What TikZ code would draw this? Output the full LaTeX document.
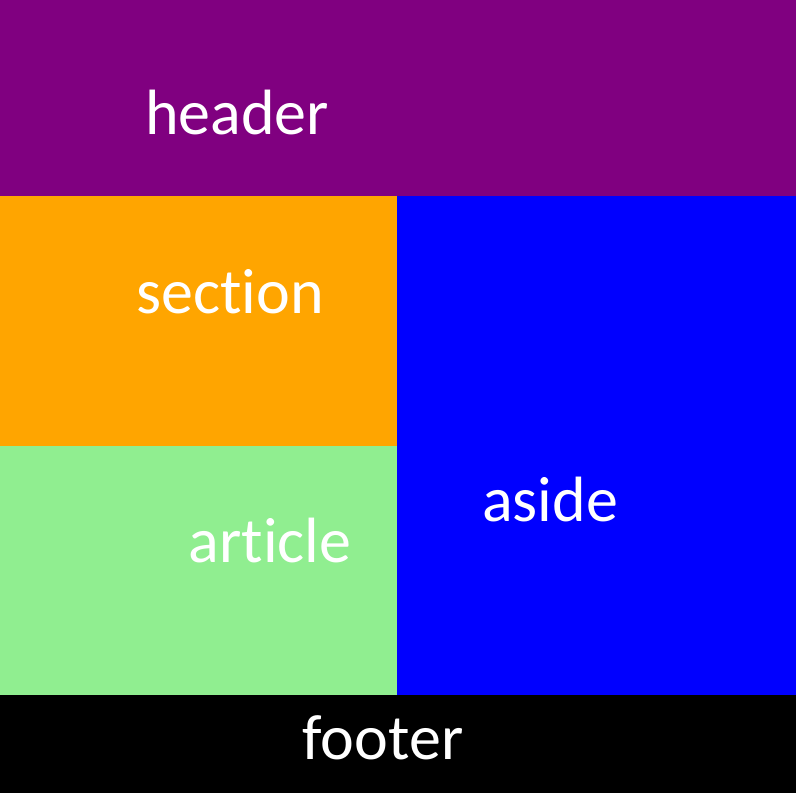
\documentclass[tikz,border=0pt]{standalone}
\usepackage{fontspec}
\setmainfont{Carlito}[Ligatures=NoCommon]
\definecolor{headercol}{RGB}{128,0,128}
\definecolor{sectioncol}{RGB}{255,165,0}
\definecolor{articlecol}{RGB}{144,238,144}
\definecolor{asidecol}{RGB}{0,0,255}
\begin{document}
\begin{tikzpicture}[x=1pt, y=-1pt,
		box/.style={inner sep=0pt, outer sep=0pt, anchor=north west},
		tag/.style={text=white, inner sep=0pt, font=\fontsize{64}{72}\selectfont}]
		\useasboundingbox (0,0) rectangle (796,793);
		% layout blocks
		\node[box, fill=headercol, minimum width=796pt, minimum height=196pt] (header) at (0,0) {};
		\node[box, fill=sectioncol, minimum width=397pt, minimum height=250pt] (section) at (0,196) {};
		\node[box, fill=articlecol, minimum width=397pt, minimum height=249pt] (article) at (0,446) {};
		\node[box, fill=asidecol, minimum width=399pt, minimum height=499pt] (aside) at (397,196) {};
		\node[box, fill=black, minimum width=796pt, minimum height=98pt] (footer) at (0,695) {};
		% labels
		\node[tag] (headertxt) at (237,113) {header};
		\node[tag] (sectiontxt) at (230,292) {section};
		\node[tag] (articletxt) at (270,541) {article};
		\node[tag] (asidetxt) at (550,500) {aside};
		\node[tag] (footertxt) at (383,738) {footer};
\end{tikzpicture}
\end{document}
